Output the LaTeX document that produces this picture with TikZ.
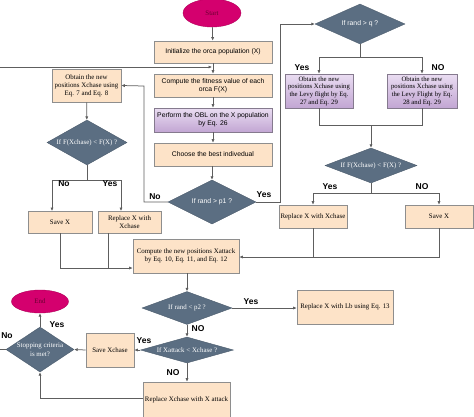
\documentclass[tikz,border=0pt]{standalone}
\usepackage{fontspec}
\setmainfont{Liberation Serif}
\setsansfont{Liberation Sans}
\usetikzlibrary{shapes.geometric, arrows.meta}

\begin{document}
\begin{tikzpicture}[x=1pt, y=-1pt,
    box/.style={draw=boxBorder, fill=boxFill, line width=0.6pt, inner sep=1pt, align=center,
        font=\fontsize{6.9}{7.9}\selectfont},
    sbox/.style={box, font=\sffamily\fontsize{6.8}{8.2}\selectfont},
    pbox/.style={box, draw=purpleBorder, top color=purpleTop, bottom color=purpleBottom},
    decision/.style={diamond, draw=decisionBorder, fill=decisionFill, inner sep=0pt, text=white,
        font=\fontsize{6.9}{7.9}\selectfont},
    term/.style={ellipse, draw=termBorder, fill=termFill, inner sep=0pt, text=termText,
        font=\fontsize{6.9}{7.9}\selectfont},
    lbl/.style={font=\sffamily\bfseries\fontsize{8.5}{9}\selectfont, inner sep=0pt},
    arr/.style={draw=lineColour, line width=0.75pt, -{Latex[length=3.5pt,width=3.2pt]}},
    ln/.style={draw=lineColour, line width=0.75pt}]

    \definecolor{boxFill}{HTML}{FDE3C8}
    \definecolor{boxBorder}{HTML}{8E8E8E}
    \definecolor{purpleTop}{HTML}{EADDF2}
    \definecolor{purpleBottom}{HTML}{C2A6D3}
    \definecolor{purpleBorder}{HTML}{857A8E}
    \definecolor{decisionFill}{HTML}{5B6E82}
    \definecolor{decisionBorder}{HTML}{4C5C6C}
    \definecolor{termFill}{HTML}{D4006E}
    \definecolor{termBorder}{HTML}{B0005A}
    \definecolor{termText}{HTML}{6A0030}
    \definecolor{lineColour}{HTML}{5E5E5E}

    % Fix the page size
    \useasboundingbox (0,0) rectangle (474,416);

    % Middle column
    \node[term, minimum width=58pt, minimum height=28pt] (start) at (212,13) {Start};
    \node[sbox, minimum width=118pt, minimum height=22pt] (init) at (213,52) {Initialize the orca population (X)};
    \node[sbox, minimum width=118pt, minimum height=23pt] (fit) at (213,85.5) {Compute the fitness value of each\\orca F(X)};
    \node[sbox, pbox, font=\sffamily\fontsize{6.8}{8.2}\selectfont, minimum width=118pt, minimum height=24pt] (obl) at (213,120) {Perform the OBL on the X population\\by Eq. 26};
    \node[sbox, minimum width=118pt, minimum height=23pt] (best) at (213,154.5) {Choose the best indivedual};
    \node[decision, font=\sffamily\fontsize{6.8}{8}\selectfont, minimum width=88pt, minimum height=44pt] (p1) at (212,202) {\makebox[0pt]{If rand > p1 ?}};

    % Left branch
    \node[box, minimum width=69pt, minimum height=33pt] (obtL) at (86.5,85.5) {Obtain the new\\positions Xchase using\\Eq. 7 and Eq. 8};
    \node[decision, minimum width=80pt, minimum height=45pt] (fxL) at (87,142.5) {\makebox[0pt]{If F(Xchase) < F(X) ?}};
    \node[box, minimum width=64pt, minimum height=22pt] (saveL) at (60,222) {Save X};
    \node[box, minimum width=63pt, minimum height=22pt] (repL) at (129.5,222) {Replace X with\\Xchase};

    % Right branch
    \node[decision, font=\sffamily\fontsize{6.8}{8}\selectfont, minimum width=90pt, minimum height=40pt] (q) at (360,24) {\makebox[0pt]{If rand > q ?}};
    \node[box, pbox, minimum width=68pt, minimum height=34pt, font=\fontsize{6.7}{7.6}\selectfont] (levL) at (319,91) {Obtain the new\\positions Xchase using\\the Levy flight by Eq.\\27 and Eq. 29};
    \node[box, pbox, minimum width=70pt, minimum height=34pt, font=\fontsize{6.7}{7.6}\selectfont] (levR) at (422,91) {Obtain the new\\positions Xchase using\\the Levy Flight by Eq.\\28 and Eq. 29};
    \node[decision, minimum width=92pt, minimum height=35pt] (fxR) at (371,165.5) {\makebox[0pt]{If F(Xchase) < F(X) ?}};
    \node[box, minimum width=68pt, minimum height=23pt] (repR) at (313,216.5) {Replace X with Xchase};
    \node[box, minimum width=68pt, minimum height=23pt] (saveR) at (439,216.5) {Save X};

    % Attack part
    \node[box, minimum width=106pt, minimum height=34pt] (atk) at (186,256) {Compute the new positions Xattack\\by Eq. 10, Eq. 11, and Eq. 12};
    \node[decision, minimum width=90pt, minimum height=33pt] (p2) at (187,308) {\makebox[0pt]{If rand < p2 ?}};
    \node[box, minimum width=96pt, minimum height=34pt] (lb) at (345,307) {Replace X with Lb using Eq. 13};
    \node[decision, minimum width=93pt, minimum height=26pt] (xa) at (187,350) {\makebox[0pt]{If Xattack < Xchase ?}};
    \node[box, minimum width=48pt, minimum height=34pt] (svx) at (110,350) {Save Xchase};
    \node[decision, minimum width=68pt, minimum height=45pt] (stop) at (40,349.5) {\makebox[0pt]{\shortstack{Stopping criteria\\is met?}}};
    \node[term, minimum width=57pt, minimum height=23pt] (endn) at (40,301.5) {End};
    \node[box, minimum width=87pt, minimum height=36pt] (rxa) at (186.5,400) {Replace Xchase with X attack};

    % Main flow
    \draw[arr] (start) -- (init);
    \draw[arr] (init) -- (fit);
    \draw[arr] (fit) -- (obl);
    \draw[arr] (obl) -- (best);
    \draw[arr] (best.south -| p1) -- (p1.north);

    % No of p1
    \draw[arr] (p1.west) -- (144,202) -- (144,86) -- (obtL.east);
    \node[lbl] (noP1) at (155,197) {No};
    \draw[arr] (obtL) -- (fxL);
    \coordinate (fxLsplit) at (87,180);
    \draw[ln] (fxL.south) -- (fxLsplit);
    \draw[arr] (fxLsplit) -| (52,211);
    \draw[arr] (fxLsplit) -| (121,211);
    \node[lbl] (noFxL) at (64,184) {No};
    \node[lbl] (yesFxL) at (110,184) {Yes};
    \draw[ln] (60,233) -- (60,268) -- (108,268);
    \draw[arr] (108,233) -- (108,268) -- (atk.west |- 0,268);

    % Yes of p1
    \draw[arr] (p1.east) -- (280,202) -- (280,24) -- (q.west);
    \node[lbl] (yesP1) at (264,195) {Yes};
    \coordinate (qsplit) at (360,57);
    \draw[ln] (q.south) -- (qsplit);
    \draw[arr] (qsplit) -| (levL.north);
    \draw[arr] (qsplit) -| (levR.north);
    \node[lbl] (yesQ) at (302,68) {Yes};
    \node[lbl] (noQ) at (438,68) {NO};
    \draw[ln] (levL.south) -- (319,125) -- (422,125) -- (levR.south);
    \draw[arr] (371,125) -- (fxR.north);
    \coordinate (fxRsplit) at (371,193);
    \draw[ln] (fxR.south) -- (fxRsplit);
    \draw[arr] (fxRsplit) -| (repR.north);
    \draw[arr] (fxRsplit) -| (saveR.north);
    \node[lbl] (yesFxR) at (330,187) {Yes};
    \node[lbl] (noFxR) at (422,187) {NO};
    \draw[ln] (repR.south) -- (313,257);
    \draw[arr] (saveR.south) -- (439,257) -- (atk.east |- 0,257);

    % Attack decisions
    \draw[arr] (atk.south -| p2) -- (p2.north);
    \draw[arr] (p2.east) -- (lb.west |- p2.east);
    \node[lbl] (yesP2) at (251,302) {Yes};
    \draw[arr] (p2) -- (xa);
    \node[lbl] (noP2) at (198,329) {NO};
    \draw[arr] (xa.west) -- (svx.east |- xa.west);
    \node[lbl] (yesXa) at (144,341) {Yes};
    \draw[arr] (xa.south) -- (xa.south |- rxa.north);
    \node[lbl] (noXa) at (173,373) {NO};
    \draw[arr] (svx.west) -- (stop.east);
    \draw[arr] (rxa.west |- 0,398) -- (40,398) -- (stop.south);
    \draw[arr] (stop.north) -- (endn.south);
    \node[lbl] (yesStop) at (57,325) {Yes};

    % Back to the start of the loop
    \draw[arr] (stop.west) -- (-10,349.5) -- (-10,67) -- (212,67);
    \node[lbl] (noStop) at (7,336) {No};

\end{tikzpicture}
\end{document}
